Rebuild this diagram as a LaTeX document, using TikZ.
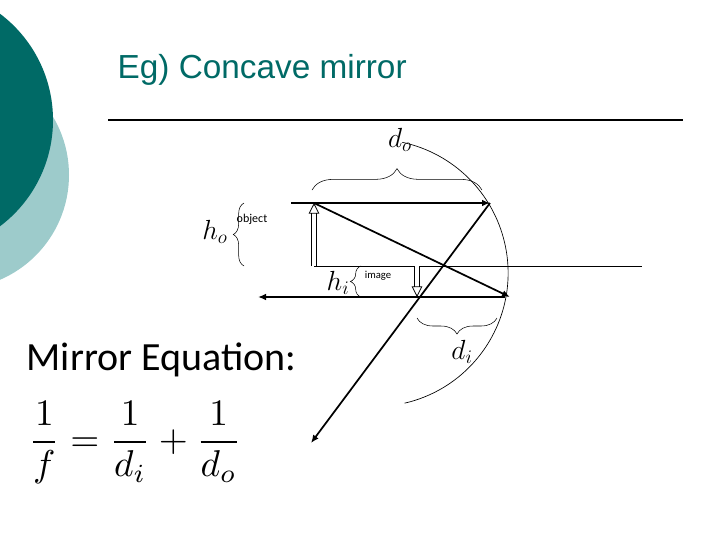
\documentclass[tikz,border=0pt]{standalone}
\usepackage{fontspec}
\setmainfont{Liberation Serif}
\newfontfamily\arialf{Liberation Sans}
\newfontfamily\calib{Carlito}
\usetikzlibrary{decorations.pathreplacing,arrows.meta}
\definecolor{darkteal}{HTML}{006A66}
\definecolor{lightteal}{HTML}{9DCBCB}
\begin{document}
\begin{tikzpicture}[x=0.75pt,y=-0.75pt,
  ray/.style={line width=1.3pt,-{Latex[length=6pt,width=5pt]}},
  brc/.style={decorate,decoration={brace,amplitude=8pt},line width=0.4pt},
  hollow/.style={draw,line width=0.6pt,-{Triangle[open,length=8pt,width=8pt]},double=white,double distance=3pt},
  lab/.style={font=\fontsize{20}{20}\selectfont}]
\useasboundingbox (0,0) rectangle (720,540);
\fill[lightteal] (-45,175) circle (114);
\fill[darkteal] (-80,120) circle (133);
\node[anchor=west,text=darkteal,font=\arialf\fontsize{25}{25}\selectfont] (title) at (113,70) {Eg) Concave mirror};
\coordinate (r1) at (108,120); \coordinate (r2) at (683,120);
\draw[line width=1pt] (r1) -- (r2);
% axis
\coordinate (ob) at (314,266); \coordinate (ax) at (642,266);
\draw[line width=0.6pt] (ob) -- (ax);
% mirror arc
\draw[line width=0.5pt] (374.5,273) ++(77:133.6) arc[start angle=77,end angle=-78,radius=133.6];
% object and image hollow arrows
\coordinate (ot) at (314,203);
\draw[hollow] (ob) -- (ot);
\coordinate (ib) at (417,266); \coordinate (it) at (417,297);
\draw[hollow] (ib) -- (it);
% rays
\coordinate (s1) at (291,203); \coordinate (m1) at (490,203);
\coordinate (m2) at (510,297); \coordinate (e2) at (258,297);
\coordinate (e3) at (311,443);
\draw[ray] (s1) -- (m1);
\draw[ray] (ot) -- (m2);
\draw[ray] (505,297) -- (e2);
\draw[ray] (m1) -- (e3);
% braces
\draw[brc,decoration={amplitude=16pt}] (312,190) -- (482,190);
\node[lab] (do) at (400,140) {$d_o$};
\draw[brc] (244,266) -- (244,203);
\node[lab] (ho) at (215,232) {$h_o$};
\node[font=\calib\fontsize{9}{9}\selectfont] (objl) at (252,219) {object};
\draw[brc] (361,297) -- (361,266);
\node[lab] (hi) at (338,283) {$h_i$};
\node[font=\calib\fontsize{8}{8}\selectfont] (imgl) at (378,276) {image};
\draw[brc,decoration={amplitude=12pt}] (497,318) -- (417,318);
\node[lab] (di) at (462,352) {$d_i$};
% equation
\node[anchor=west,font=\calib\fontsize{30}{30}\selectfont] (me) at (22,360) {Mirror Equation:};
\node[anchor=west] (eq) at (24,443) {\scalebox{2.8}{$\displaystyle \frac{1}{f}=\frac{1}{d_i}+\frac{1}{d_o}$}};
\end{tikzpicture}
\end{document}
